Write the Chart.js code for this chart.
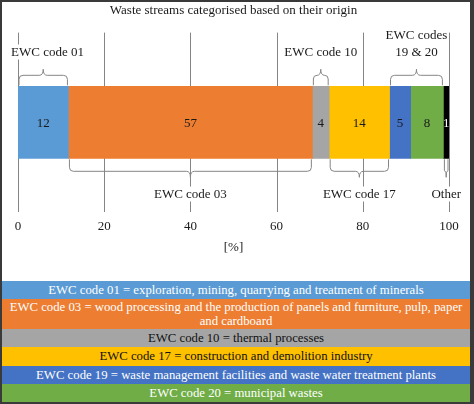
<!DOCTYPE html>
<html>
<head>
<meta charset="utf-8">
<script src="https://cdn.jsdelivr.net/npm/chart.js@4.4.1/dist/chart.umd.min.js"></script>
<style>
  html, body { margin: 0; padding: 0; background: #fff; }
  #page { position: relative; width: 474px; height: 404px; overflow: hidden; background: #fff;
          font-family: 'Liberation Serif', 'Times New Roman', serif; }
  #chartBox { position: absolute; left: 0; top: 0; width: 474px; height: 280px; }
  #legend { position: absolute; left: 2px; top: 281px; width: 468px; }
  .band { display: flex; flex-direction: column; justify-content: center; align-items: center;
          text-align: center; font-size: 12.75px; line-height: 14.3px; white-space: nowrap; }
  #frame { position: absolute; left: 0; top: 0; width: 474px; height: 404px; box-sizing: border-box;
           border-style: solid; border-color: #3a3a3a; border-width: 2px 4px 2px 2px; pointer-events: none; }
</style>
</head>
<body>
<div id="page">
  <div id="chartBox"><canvas id="c"></canvas></div>
  <div id="legend"></div>
  <div id="frame"></div>
</div>
<script>
// ---- data ----
const chartTitle = 'Waste streams categorised based on their origin';
const categories = ['Waste streams'];
const segmentNames = ['EWC code 01', 'EWC code 03', 'EWC code 10', 'EWC code 17', 'EWC code 19', 'EWC code 20', 'Other'];
const segmentValues = [11.7, 56.6, 3.9, 14.0, 4.9, 7.6, 1.3];
const printedValues = ['12', '57', '4', '14', '5', '8', '1'];
const segmentColors = ['#5B9BD5', '#ED7D31', '#A5A5A5', '#FFC000', '#4472C4', '#70AD47', '#000000'];
const xTickValues = [0, 20, 40, 60, 80, 100];
const xAxisTitle = '[%]';

const groupLabels = [['EWC code 01'], ['EWC code 03'], ['EWC code 10'], ['EWC code 17'], ['EWC codes', '19 & 20'], ['Other']];
const groupFirst = [0, 1, 2, 3, 4, 6];
const groupLast  = [0, 1, 2, 3, 5, 6];
const groupSide  = ['top', 'bottom', 'top', 'bottom', 'top', 'bottom'];

const legendLines = [
  ['EWC code 01 = exploration, mining, quarrying and treatment of minerals'],
  ['EWC code 03 = wood processing and the production of panels and furniture, pulp, paper', 'and cardboard'],
  ['EWC code 10 = thermal processes'],
  ['EWC code 17 = construction and demolition industry'],
  ['EWC code 19 = waste management facilities and waste water treatment plants'],
  ['EWC code 20 = municipal wastes']
];
const legendColors = ['#5B9BD5', '#ED7D31', '#A5A5A5', '#FFC000', '#4472C4', '#70AD47'];

// ---- legend bands (HTML) ----
const bandHeights = [18, 30, 18, 19, 18, 18];
const bandText = ['#ffffff', '#ffffff', '#111111', '#111111', '#ffffff', '#ffffff'];
const legendEl = document.getElementById('legend');
legendLines.forEach((lines, i) => {
  const d = document.createElement('div');
  d.className = 'band';
  d.style.background = legendColors[i];
  d.style.color = bandText[i];
  d.style.height = bandHeights[i] + 'px';
  lines.forEach(t => { const s = document.createElement('div'); s.textContent = t; d.appendChild(s); });
  legendEl.appendChild(d);
});

// ---- chart ----
const FONT = "'Liberation Serif', 'Times New Roman', serif";
const GRID = '#858585';

const cum = [0];
segmentValues.forEach(v => cum.push(cum[cum.length - 1] + v));

const gridPlugin = {
  id: 'gridPlugin',
  beforeDatasetsDraw(chart) {
    const { ctx, chartArea } = chart;
    const xs = chart.scales.x;
    ctx.save();
    ctx.strokeStyle = GRID;
    ctx.lineWidth = 1;
    xTickValues.forEach(v => {
      const px = Math.round(xs.getPixelForValue(v)) + 0.5;
      ctx.beginPath();
      ctx.moveTo(px, chartArea.top);
      ctx.lineTo(px, chartArea.bottom);
      ctx.stroke();
    });
    ctx.restore();
  }
};

function brace(ctx, x1, x2, y0, dir, h, tip) {
  const xm = (x1 + x2) / 2;
  const r = Math.min(4, (x2 - x1) / 4);
  const yh = y0 + dir * h;
  ctx.beginPath();
  ctx.moveTo(x1, y0);
  ctx.lineTo(x1, yh - dir * r);
  ctx.quadraticCurveTo(x1, yh, x1 + r, yh);
  ctx.lineTo(xm - r, yh);
  ctx.quadraticCurveTo(xm, yh, xm, yh + dir * tip);
  ctx.quadraticCurveTo(xm, yh, xm + r, yh);
  ctx.lineTo(x2 - r, yh);
  ctx.quadraticCurveTo(x2, yh, x2, yh - dir * r);
  ctx.lineTo(x2, y0);
  ctx.stroke();
}

const annotPlugin = {
  id: 'annotPlugin',
  afterDatasetsDraw(chart) {
    const { ctx } = chart;
    const xs = chart.scales.x;
    ctx.save();
    ctx.font = '13px ' + FONT;
    ctx.textAlign = 'center';
    ctx.textBaseline = 'middle';
    let barTop = 0, barBottom = 0;
    chart.data.datasets.forEach((ds, i) => {
      const el = chart.getDatasetMeta(i).data[0];
      const p = el.getProps(['x', 'base', 'y', 'height'], true);
      barTop = p.y - p.height / 2;
      barBottom = p.y + p.height / 2;
      ctx.fillStyle = i === segmentValues.length - 1 ? '#ffffff' : '#1a1a1a';
      ctx.fillText(printedValues[i], (p.x + p.base) / 2, p.y + 1);
    });
    ctx.strokeStyle = GRID;
    ctx.lineWidth = 1;
    groupLabels.forEach((lines, g) => {
      const x1 = xs.getPixelForValue(cum[groupFirst[g]]) + 1;
      const x2 = xs.getPixelForValue(cum[groupLast[g] + 1]) - 1;
      const xm = (x1 + x2) / 2;
      const top = groupSide[g] === 'top';
      if (top) brace(ctx, x1, x2, barTop - 1, -1, 10, 6);
      else brace(ctx, x1, x2, barBottom + 1, 1, 12, 6);
      const lineH = 17;
      const baseY = top ? 52 - (lines.length - 1) * lineH : 194;
      lines.forEach((t, k) => {
        const w = ctx.measureText(t).width;
        let cx = xm;
        const minCx = chart.chartArea.left - 7 + w / 2;
        if (cx < minCx) cx = minCx;
        const cy = baseY + k * lineH;
        ctx.fillStyle = '#ffffff';
        ctx.fillRect(cx - w / 2 - 1, cy - 7.5, w + 2, 15);
        ctx.fillStyle = '#1a1a1a';
        ctx.fillText(t, cx, cy + 1);
      });
    });
    ctx.restore();
  }
};

const datasets = segmentNames.map((name, i) => ({
  label: name,
  data: [segmentValues[i]],
  backgroundColor: segmentColors[i],
  borderWidth: 0,
  barThickness: 72
}));

new Chart(document.getElementById('c'), {
  type: 'bar',
  data: { labels: categories, datasets },
  options: {
    indexAxis: 'y',
    responsive: true,
    maintainAspectRatio: false,
    animation: false,
    layout: { padding: { left: 18, right: 25, top: 0, bottom: 25 } },
    plugins: {
      legend: { display: false },
      tooltip: { enabled: false },
      title: {
        display: true, text: chartTitle, color: '#1a1a1a',
        font: { family: FONT, size: 13, weight: 'normal' },
        padding: { top: 3, bottom: 14 }
      }
    },
    scales: {
      x: {
        stacked: true, min: 0, max: 100,
        afterBuildTicks(scale) { scale.ticks = xTickValues.map(v => ({ value: v })); },
        afterFit(scale) { scale.height = 43; },
        ticks: { color: '#1a1a1a', font: { family: FONT, size: 13 }, padding: 7, maxRotation: 0 },
        grid: { display: false, drawTicks: false },
        border: { display: false },
        title: { display: true, text: xAxisTitle, color: '#1a1a1a',
                 font: { family: FONT, size: 13 }, padding: { top: 3, bottom: 0 } }
      },
      y: { stacked: true, display: false }
    }
  },
  plugins: [gridPlugin, annotPlugin]
});
</script>
</body>
</html>
